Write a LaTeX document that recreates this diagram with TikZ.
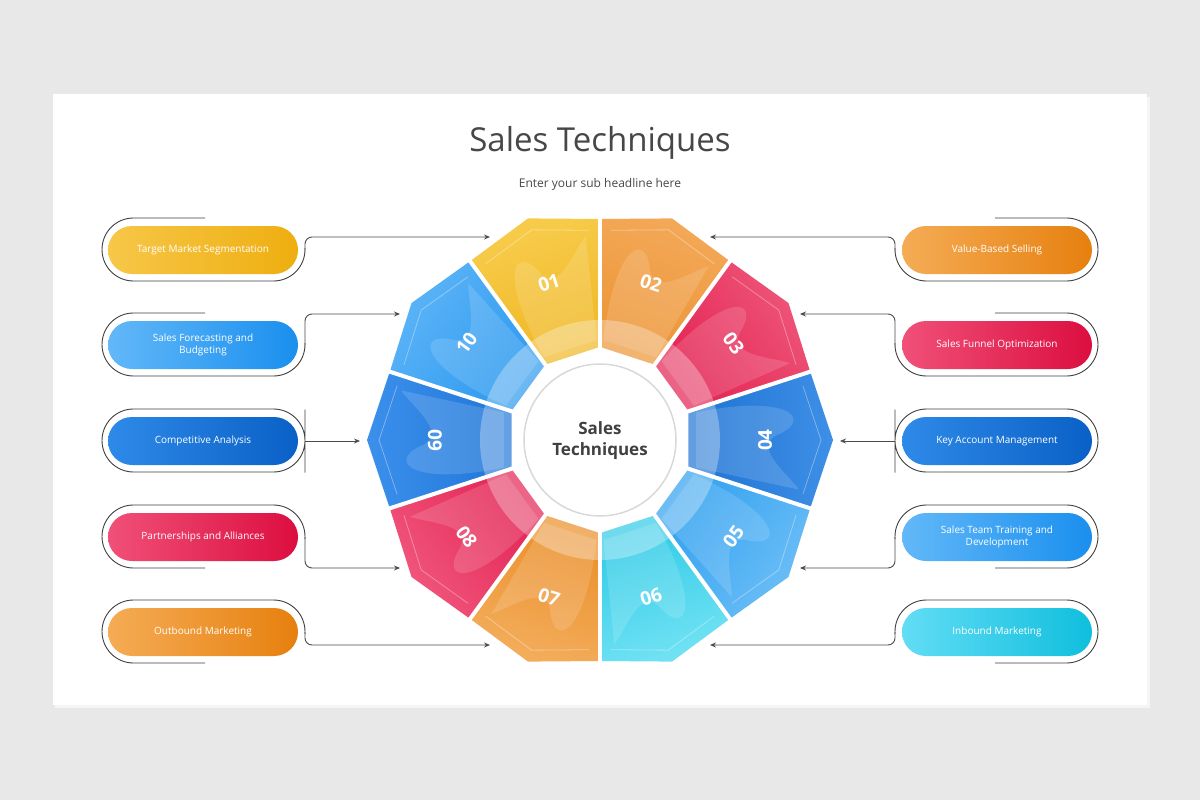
\documentclass[tikz,border=0pt]{standalone}
\usepackage{fontspec}
\setmainfont{Open Sans}
\usetikzlibrary{calc,arrows.meta}
\begin{document}
\begin{tikzpicture}[x=1pt,y=-1pt,
  pill/.style={rounded corners=24pt,minimum width=190pt,minimum height=48pt,text=white,font=\fontsize{10}{12}\selectfont,align=center,inner sep=0pt},
  outl/.style={draw=black!75,line width=0.9pt},
  conn/.style={draw=black!70,line width=0.9pt,-{Stealth[length=6pt,width=5pt]}}]
\useasboundingbox (0,0) rectangle (1200,800);
\fill[black!9] (0,0) rectangle (1200,800);
\fill[black!4] (55,97) rectangle (1150,708);
\fill[white] (53,94) rectangle (1147,705);
\node[text=black!72,font=\fontsize{33}{38}\selectfont] (title) at (600,143) {Sales Techniques};
\node[text=black!72,font=\fontsize{12}{14}\selectfont] (sub) at (600,184) {Enter your sub headline here};
\coordinate (O) at (600,440);
% segments
\foreach \ang/\ca/\cb/\num/\rot in {108/F7CB4A/EDAE12/01/18, 72/F3A857/E98A23/02/-18, 36/EE5478/DF0E42/03/-54, 0/3E8FE6/0A62C8/04/90, -36/6ABDF6/1B96EE/05/54, -72/6FE1F3/10BFE0/06/18, -108/F3AC5A/E67F10/07/-18, -144/F0557C/DE1143/08/-54, 180/3C90EC/0E66CC/09/-90, 144/5BB3F7/1A90EC/10/54}{
  \definecolor{ca}{HTML}{\ca}\definecolor{cb}{HTML}{\cb}
  \shade[top color=ca,bottom color=cb,shading angle=\ang-90]
    (O) -- +({\ang+18}:221 and -221) -- +({\ang}:233 and -233) -- +({\ang-18}:221 and -221) -- cycle;
  \fill[white,opacity=0.14] ($(O)+({\ang+16}:100 and -100)$) .. controls ($(O)+({\ang+14}:190 and -190)$) and ($(O)+({\ang+6}:215 and -215)$) .. ($(O)+({\ang+2}:180 and -180)$) .. controls ($(O)+({\ang-2}:150 and -150)$) and ($(O)+({\ang-10}:190 and -190)$) .. ($(O)+({\ang-14}:205 and -205)$) -- ($(O)+({\ang-16}:100 and -100)$) -- cycle;
  \draw[white,opacity=0.35,line width=0.8pt] ($(O)+({\ang+15}:210 and -210)$) -- ($(O)+({\ang}:221 and -221)$) -- ($(O)+({\ang-15}:210 and -210)$);
  \node[text=white,font=\bfseries\fontsize{19}{20}\selectfont,rotate=\rot] (n\num) at ($(O)+(\ang:165 and -165)$) {\num};
}
\foreach \ang in {90,54,...,-234}{
  \draw[white,line width=4pt] (O) -- +(\ang:240 and -240);
}
\fill[white,opacity=0.3] (O) circle (120);
\fill[white] (O) +(90:93) \foreach \a in {54,18,...,-234}{ -- +(\a:93)} -- cycle;
\draw[black!15,line width=1.5pt,fill=white] (O) circle (76);
\node[text=black!75,font=\bfseries\fontsize{17}{21}\selectfont,align=center] (center) at (600,441) {Sales\\Techniques};
% pills
\definecolor{yA}{HTML}{F7C748}\definecolor{yB}{HTML}{EEAE10}
\definecolor{lA}{HTML}{62B8F8}\definecolor{lB}{HTML}{1A8FEE}
\definecolor{bA}{HTML}{2E8AE8}\definecolor{bB}{HTML}{0A60C6}
\definecolor{rA}{HTML}{F05078}\definecolor{rB}{HTML}{DC0E40}
\definecolor{oA}{HTML}{F5AC55}\definecolor{oB}{HTML}{E6800F}
\definecolor{cA}{HTML}{62DDF5}\definecolor{cB}{HTML}{10BEDD}
\node[pill,left color=yA,right color=yB] (p1) at (203,250) {Target Market Segmentation};
\node[pill,left color=lA,right color=lB] (p2) at (203,345) {Sales Forecasting and\\Budgeting};
\node[pill,left color=bA,right color=bB] (p3) at (203,441) {Competitive Analysis};
\node[pill,left color=rA,right color=rB] (p4) at (203,537) {Partnerships and Alliances};
\node[pill,left color=oA,right color=oB] (p5) at (203,632) {Outbound Marketing};
\node[pill,left color=oA,right color=oB] (q1) at (997,250) {Value-Based Selling};
\node[pill,left color=rA,right color=rB] (q2) at (997,345) {Sales Funnel Optimization};
\node[pill,left color=bA,right color=bB] (q3) at (997,441) {Key Account Management};
\node[pill,left color=lA,right color=lB] (q4) at (997,537) {Sales Team Training and\\Development};
\node[pill,left color=cA,right color=cB] (q5) at (997,632) {Inbound Marketing};
% arrow targets
\coordinate (t1) at (490,237); \coordinate (t2) at (400,314); \coordinate (t3) at (360,441);
\coordinate (t4) at (400,568); \coordinate (t5) at (490,645);
\coordinate (u1) at (710,237); \coordinate (u2) at (800,314); \coordinate (u3) at (840,441);
\coordinate (u4) at (800,568); \coordinate (u5) at (710,645);
% left outlines
\foreach \y/\t in {250/t1,345/t2}{
  \draw[outl,rounded corners=31.5pt] (205,\y-32) -- (102,\y-32) -- (102,\y+31) -- (305,\y+31) -- (305,\y-2);
  \draw[conn,rounded corners=7pt] (305,\y) |- (\t);
}
\draw[outl,rounded corners=31.5pt] (305,441) -- (305,409) -- (102,409) -- (102,472) -- (305,472) -- cycle;
\draw[conn] (305,441) -- (t3);
\foreach \y/\t in {537/t4,632/t5}{
  \draw[outl,rounded corners=31.5pt] (205,\y+31) -- (102,\y+31) -- (102,\y-32) -- (305,\y-32) -- (305,\y+2);
  \draw[conn,rounded corners=7pt] (305,\y) |- (\t);
}
% right outlines
\foreach \y/\t in {250/u1,345/u2}{
  \draw[outl,rounded corners=31.5pt] (995,\y-32) -- (1098,\y-32) -- (1098,\y+31) -- (895,\y+31) -- (895,\y-2);
  \draw[conn,rounded corners=7pt] (895,\y) |- (\t);
}
\draw[outl,rounded corners=31.5pt] (895,441) -- (895,409) -- (1098,409) -- (1098,472) -- (895,472) -- cycle;
\draw[conn] (895,441) -- (u3);
\foreach \y/\t in {537/u4,632/u5}{
  \draw[outl,rounded corners=31.5pt] (995,\y+31) -- (1098,\y+31) -- (1098,\y-32) -- (895,\y-32) -- (895,\y+2);
  \draw[conn,rounded corners=7pt] (895,\y) |- (\t);
}
\end{tikzpicture}
\end{document}
